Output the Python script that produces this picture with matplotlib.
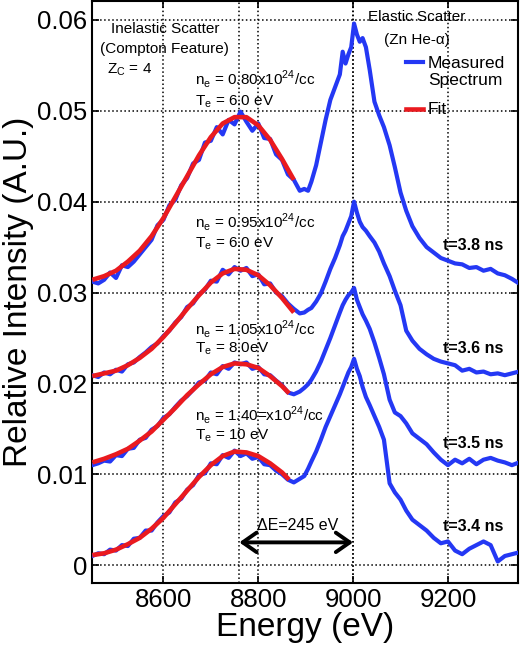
# Compton / elastic scattering spectra with fits
import matplotlib
matplotlib.use('Agg')
import matplotlib.pyplot as plt

plt.rcParams['font.family'] = ['Liberation Sans', 'DejaVu Sans']
plt.rcParams['mathtext.fontset'] = 'custom'
plt.rcParams['mathtext.rm'] = 'Liberation Sans'

# energy axis of the measured spectra (eV)
e_meas = [8450, 8462.5, 8475, 8487.5, 8500, 8512.5, 8525, 8537.5, 8550, 8562.5,
          8575, 8587.5, 8600, 8612.5, 8625, 8637.5, 8650, 8662.5, 8675, 8687.5,
          8700, 8712.5, 8725, 8737.5, 8750, 8762.5, 8775, 8787.5, 8800, 8812.5,
          8825, 8837.5, 8850, 8862.5, 8875, 8887.5,
          8897, 8905, 8912, 8922, 8932, 8942, 8952, 8962, 8972, 8978,
          8984, 8990, 8996, 9002, 9008, 9014, 9020, 9027, 9035, 9045,
          9055, 9065, 9077, 9088, 9100, 9112, 9125, 9140, 9155, 9170,
          9185, 9200, 9215, 9230, 9245, 9260, 9275, 9290, 9305, 9320,
          9335, 9350]

# measured spectra (t=3.8, 3.6, 3.5, 3.4 ns)
meas_38 = [0.0312, 0.0310, 0.0314, 0.0322, 0.0316, 0.0330, 0.0328, 0.0334, 0.0342, 0.0350,
           0.0358, 0.0374, 0.0380, 0.0396, 0.0402, 0.0418, 0.0426, 0.0442, 0.0446, 0.0465,
           0.0467, 0.0482, 0.0474, 0.0490, 0.0485, 0.0499, 0.0488, 0.0478, 0.0486, 0.0470,
           0.0469, 0.0452, 0.0446, 0.0430, 0.0424, 0.0412,
           0.0414, 0.0412, 0.0422, 0.0440, 0.0465, 0.0490, 0.0512, 0.0526, 0.0540, 0.0565,
           0.0552, 0.0562, 0.0570, 0.0596, 0.0584, 0.0576, 0.0580, 0.0570, 0.0545, 0.0510,
           0.0495, 0.0482, 0.0462, 0.0438, 0.0410, 0.0390, 0.0373, 0.0360, 0.0350, 0.0344,
           0.0338, 0.0335, 0.0332, 0.0331, 0.0327, 0.0328, 0.0324, 0.0326, 0.0321, 0.0319,
           0.0315, 0.0310]
meas_36 = [0.0209, 0.0207, 0.0212, 0.0210, 0.0215, 0.0213, 0.0221, 0.0223, 0.0229, 0.0234,
           0.0240, 0.0244, 0.0252, 0.0258, 0.0267, 0.0273, 0.0284, 0.0288, 0.0298, 0.0303,
           0.0313, 0.0312, 0.0325, 0.0320, 0.0328, 0.0324, 0.0327, 0.0318, 0.0320, 0.0309,
           0.0310, 0.0300, 0.0296, 0.0288, 0.0282, 0.0277,
           0.0278, 0.0281, 0.0283, 0.0290, 0.0299, 0.0312, 0.0326, 0.0338, 0.0352, 0.0362,
           0.0368, 0.0376, 0.0384, 0.0400, 0.0388, 0.0378, 0.0372, 0.0368, 0.0362, 0.0355,
           0.0345, 0.0332, 0.0318, 0.0302, 0.0286, 0.0258, 0.0247, 0.0238, 0.0232, 0.0227,
           0.0224, 0.0222, 0.0220, 0.0214, 0.0216, 0.0212, 0.0213, 0.0210, 0.0211, 0.0209,
           0.0211, 0.0213]
meas_35 = [0.0110, 0.0112, 0.0115, 0.0114, 0.0121, 0.0120, 0.0128, 0.0129, 0.0138, 0.0140,
           0.0149, 0.0153, 0.0162, 0.0166, 0.0174, 0.0181, 0.0186, 0.0193, 0.0201, 0.0203,
           0.0212, 0.0210, 0.0219, 0.0216, 0.0223, 0.0221, 0.0223, 0.0216, 0.0218, 0.0210,
           0.0209, 0.0203, 0.0198, 0.0190, 0.0188, 0.0191,
           0.0195, 0.0199, 0.0204, 0.0213, 0.0224, 0.0237, 0.0250, 0.0264, 0.0278, 0.0286,
           0.0292, 0.0297, 0.0300, 0.0305, 0.0292, 0.0284, 0.0276, 0.0269, 0.0260, 0.0245,
           0.0228, 0.0210, 0.0182, 0.0168, 0.0164, 0.0156, 0.0145, 0.0139, 0.0133, 0.0124,
           0.0116, 0.0110, 0.0116, 0.0112, 0.0117, 0.0111, 0.0116, 0.0118, 0.0115, 0.0113,
           0.0110, 0.0113]
meas_34 = [0.0010, 0.0013, 0.0012, 0.0017, 0.0016, 0.0022, 0.0021, 0.0029, 0.0030, 0.0038,
           0.0038, 0.0047, 0.0054, 0.0058, 0.0069, 0.0073, 0.0083, 0.0088, 0.0099, 0.0101,
           0.0112, 0.0111, 0.0121, 0.0118, 0.0126, 0.0120, 0.0123, 0.0117, 0.0119, 0.0111,
           0.0110, 0.0104, 0.0100, 0.0094, 0.0091, 0.0095,
           0.0098, 0.0106, 0.0114, 0.0125, 0.0138, 0.0152, 0.0164, 0.0176, 0.0188, 0.0196,
           0.0204, 0.0212, 0.0218, 0.0227, 0.0216, 0.0208, 0.0196, 0.0185, 0.0176, 0.0164,
           0.0152, 0.0138, 0.0090, 0.0080, 0.0072, 0.0060, 0.0050, 0.0044, 0.0038, 0.0030,
           0.0024, 0.0026, 0.0016, 0.0012, 0.0018, 0.0022, 0.0026, 0.0022, 0.0004, 0.0010,
           0.0012, 0.0014]

# fits to the Compton feature
fit_e_a = [8450, 8475, 8500, 8525, 8550, 8575, 8600, 8625, 8650, 8675,
           8700, 8725, 8750, 8775, 8800, 8825, 8850, 8875]
fit_e_b = [8450, 8475, 8500, 8525, 8550, 8575, 8600, 8625, 8650, 8675,
           8700, 8725, 8750, 8775, 8800, 8825, 8850, 8865]
fit_38 = [0.0314, 0.0318, 0.0324, 0.0334, 0.0346, 0.0362, 0.0382, 0.0405, 0.0428, 0.0451,
          0.0471, 0.0486, 0.0493, 0.0493, 0.0484, 0.0468, 0.0447, 0.0424]
fit_36 = [0.0208, 0.0211, 0.0214, 0.0220, 0.0228, 0.0238, 0.0251, 0.0266, 0.0282, 0.0297,
          0.0311, 0.0321, 0.0326, 0.0325, 0.0319, 0.0308, 0.0294, 0.0278]
fit_35 = [0.0113, 0.0117, 0.0122, 0.0128, 0.0137, 0.0147, 0.0160, 0.0173, 0.0187, 0.0199,
          0.0210, 0.0218, 0.0222, 0.0221, 0.0217, 0.0208, 0.0197, 0.0189]
fit_34 = [0.0011, 0.0013, 0.0017, 0.0023, 0.0030, 0.0040, 0.0052, 0.0067, 0.0082, 0.0097,
          0.0110, 0.0120, 0.0125, 0.0124, 0.0120, 0.0112, 0.0102, 0.0094]

spectra = [meas_38, meas_36, meas_35, meas_34]
fits = [(fit_e_a, fit_38), (fit_e_a, fit_36), (fit_e_b, fit_35), (fit_e_b, fit_34)]
times = ['t=3.8 ns', 't=3.6 ns', 't=3.5 ns', 't=3.4 ns']
time_y = [0.0352, 0.0238, 0.0134, 0.0043]
ne_vals = ['0.80x10', '0.95x10', '1.05x10', '1.40=x10']
te_vals = ['6.0 eV', '6.0 eV', '8.0eV', '10 eV']
label_y = [(0.0535, 0.0510), (0.0378, 0.0354), (0.0260, 0.0238), (0.0165, 0.0143)]

compton_peak = 8760
elastic_peak = 9000

xticks = [8600, 8800, 9000, 9200]
yticks = [0, 0.01, 0.02, 0.03, 0.04, 0.05, 0.06]
ytick_labels = ['0', '0.01', '0.02', '0.03', '0.04', '0.05', '0.06']

blue = '#2438f4'
red = '#ea1a1f'

fig = plt.figure(figsize=(5.2, 6.49), dpi=100)
ax = fig.add_axes([0.1775, 0.1017, 0.818, 0.897])

for i in range(4):
    ax.plot(e_meas, spectra[i], color=blue, lw=3.0, solid_joinstyle='round', zorder=3)
    ax.plot(fits[i][0], fits[i][1], color=red, lw=3.3, solid_capstyle='butt', zorder=4)
    ax.text(9190, time_y[i], times[i], fontsize=11.5, fontweight='bold', va='center')
    ax.text(8667, label_y[i][0], 'n$_\\mathregular{e}$ = ' + ne_vals[i] + '$^\\mathregular{24}$/cc',
            fontsize=11, va='center')
    ax.text(8667, label_y[i][1], 'T$_\\mathregular{e}$ = ' + te_vals[i], fontsize=11, va='center')

ax.axvline(compton_peak, color='k', ls=':', lw=1.1, zorder=1)
ax.axvline(elastic_peak, color='k', ls=':', lw=1.1, zorder=1)

# delta E arrow
ax.annotate('', xy=(elastic_peak, 0.0025), xytext=(compton_peak, 0.0025),
            arrowprops=dict(arrowstyle='<->,head_length=0.5,head_width=0.35', color='k',
                            lw=2.8, mutation_scale=20, shrinkA=0, shrinkB=0))
ax.text((compton_peak + elastic_peak) / 2 + 3, 0.0044, '\u0394E=245 eV', fontsize=11.5,
        ha='center', va='center')

ax.text(8603, 0.0590, 'Inelastic Scatter', fontsize=11, ha='center', va='center')
ax.text(8603, 0.0568, '(Compton Feature)', fontsize=11, ha='center', va='center')
ax.text(8481, 0.0545, 'Z$_\\mathregular{C}$ = 4', fontsize=11, ha='left', va='center')
ax.text(9134, 0.0603, 'Elastic Scatter', fontsize=11, ha='center', va='center')
ax.text(9134, 0.0578, '(Zn He-\u03b1)', fontsize=11, ha='center', va='center')

# legend keys
ax.plot([0.738, 0.778], [0.895, 0.895], color=blue, lw=3.0, transform=ax.transAxes)
ax.plot([0.738, 0.778], [0.814, 0.814], color=red, lw=3.3, transform=ax.transAxes)
ax.text(0.789, 0.878, 'Measured\nSpectrum', fontsize=12.5, va='center', ha='left',
        transform=ax.transAxes, linespacing=1.2)
ax.text(0.789, 0.814, 'Fit', fontsize=12.5, va='center', ha='left', transform=ax.transAxes)

ax.set_xlim(8450, 9347)
ax.set_ylim(-0.00197, 0.0621)
ax.set_xticks(xticks)
ax.set_yticks(yticks)
ax.set_yticklabels(ytick_labels)
ax.tick_params(direction='in', length=5, width=1.2, labelsize=18.5, top=True, right=True)
ax.grid(True, color='k', ls=':', lw=1.1)
for s in ax.spines.values():
    s.set_linewidth(1.5)
ax.set_xlabel('Energy (eV)', fontsize=24, labelpad=0)
ax.set_ylabel('Relative Intensity (A.U.)', fontsize=24, labelpad=2)

plt.savefig('out.png', dpi=100)
